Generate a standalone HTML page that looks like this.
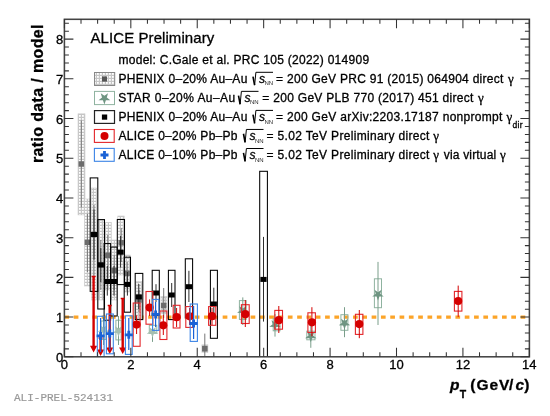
<!DOCTYPE html>
<html><head><meta charset="utf-8"><style>
html,body{margin:0;padding:0;background:#fff;}
svg{display:block;}
text{font-family:"Liberation Sans",sans-serif;fill:#000;stroke:#000;stroke-width:0.3px;}
.lab{font-size:13px;}
.leg{font-size:12px;}
.g{font-family:"Liberation Serif",serif;}
</style></head><body>
<svg width="550" height="416" viewBox="0 0 550 416">
<defs>
<pattern id="hp" patternUnits="userSpaceOnUse" width="3" height="3">
<rect width="3" height="3" fill="#c6c6c6"/><rect x="1" y="1" width="1.8" height="1.8" fill="#fff"/>
</pattern>
<clipPath id="fr"><rect x="64.4" y="19.3" width="465" height="337.5"/></clipPath>
</defs>
<g clip-path="url(#fr)"><line x1="64.4" y1="317.1" x2="526" y2="317.1" stroke="#fca428" stroke-width="3.4" stroke-dasharray="4.7 4.61"/><rect x="78.0" y="113.8" width="7.0" height="101.1" fill="url(#hp)" stroke="#ccc" stroke-width="0.6"/><line x1="81.3" y1="120.4" x2="81.3" y2="207.5" stroke="#777" stroke-width="1"/><rect x="78.55" y="161.25" width="5.5" height="5.5" fill="#6c6c6c"/><rect x="84.5" y="199.0" width="5.8" height="87.0" fill="url(#hp)" stroke="#ccc" stroke-width="0.6"/><line x1="87.4" y1="213.7" x2="87.4" y2="272.0" stroke="#777" stroke-width="1"/><rect x="84.65" y="239.55" width="5.5" height="5.5" fill="#6c6c6c"/><rect x="91.5" y="188.0" width="5.0" height="112.0" fill="url(#hp)" stroke="#ccc" stroke-width="0.6"/><line x1="94.0" y1="205.0" x2="94.0" y2="280.0" stroke="#777" stroke-width="1"/><rect x="91.25" y="231.75" width="5.5" height="5.5" fill="#6c6c6c"/><rect x="98.6" y="220.5" width="5.4" height="79.5" fill="url(#hp)" stroke="#ccc" stroke-width="0.6"/><line x1="100.8" y1="240.0" x2="100.8" y2="290.0" stroke="#777" stroke-width="1"/><rect x="98.05" y="262.15" width="5.5" height="5.5" fill="#6c6c6c"/><rect x="104.7" y="222.3" width="6.6" height="67.7" fill="url(#hp)" stroke="#ccc" stroke-width="0.6"/><line x1="107.8" y1="235.0" x2="107.8" y2="278.0" stroke="#777" stroke-width="1"/><rect x="105.05" y="252.55" width="5.5" height="5.5" fill="#6c6c6c"/><rect x="111.0" y="240.0" width="6.0" height="60.0" fill="url(#hp)" stroke="#ccc" stroke-width="0.6"/><line x1="114.2" y1="255.0" x2="114.2" y2="290.0" stroke="#777" stroke-width="1"/><rect x="111.45" y="267.75" width="5.5" height="5.5" fill="#6c6c6c"/><rect x="117.8" y="216.0" width="6.4" height="59.0" fill="url(#hp)" stroke="#ccc" stroke-width="0.6"/><line x1="121.2" y1="228.0" x2="121.2" y2="262.0" stroke="#777" stroke-width="1"/><rect x="118.45" y="240.05" width="5.5" height="5.5" fill="#6c6c6c"/><rect x="124.5" y="255.0" width="5.7" height="37.0" fill="url(#hp)" stroke="#ccc" stroke-width="0.6"/><line x1="127.2" y1="262.0" x2="127.2" y2="288.0" stroke="#777" stroke-width="1"/><rect x="124.45" y="270.55" width="5.5" height="5.5" fill="#6c6c6c"/><rect x="136.0" y="281.5" width="6.0" height="37.5" fill="url(#hp)" stroke="#ccc" stroke-width="0.6"/><line x1="139.0" y1="290.0" x2="139.0" y2="312.0" stroke="#777" stroke-width="1"/><rect x="136.25" y="297.25" width="5.5" height="5.5" fill="#6c6c6c"/><rect x="160.9" y="296.5" width="6.0" height="17.3" fill="url(#hp)" stroke="#ccc" stroke-width="0.6"/><line x1="163.7" y1="288.0" x2="163.7" y2="318.0" stroke="#777" stroke-width="1"/><rect x="160.95" y="302.75" width="5.5" height="5.5" fill="#6c6c6c"/><rect x="201.9" y="344.8" width="6.0" height="7.8" fill="url(#hp)" stroke="#ccc" stroke-width="0.6"/><line x1="204.8" y1="333.6" x2="204.8" y2="357.0" stroke="#777" stroke-width="1"/><rect x="202.05" y="345.95" width="5.5" height="5.5" fill="#6c6c6c"/><rect x="101.0" y="321.0" width="5.0" height="18.4" fill="none" stroke="#8fb3a0" stroke-width="1"/><line x1="103.5" y1="318.0" x2="103.5" y2="345.0" stroke="#7a9e8a" stroke-width="1"/><path d="M103.50,336.00 L102.09,331.94 L97.79,331.85 L101.22,329.26 L99.97,325.15 L103.50,327.60 L107.03,325.15 L105.78,329.26 L109.21,331.85 L104.91,331.94Z" fill="#a5bfb0"/><rect x="115.9" y="320.2" width="5.3" height="19.7" fill="none" stroke="#8fb3a0" stroke-width="1"/><line x1="118.5" y1="316.0" x2="118.5" y2="345.0" stroke="#7a9e8a" stroke-width="1"/><path d="M118.50,337.00 L117.09,332.94 L112.79,332.85 L116.22,330.26 L114.97,326.15 L118.50,328.60 L122.03,326.15 L120.78,330.26 L124.21,332.85 L119.91,332.94Z" fill="#a5bfb0"/><rect x="149.3" y="325.3" width="7.5" height="8.0" fill="none" stroke="#8fb3a0" stroke-width="1"/><line x1="152.5" y1="323.9" x2="152.5" y2="341.9" stroke="#7a9e8a" stroke-width="1"/><path d="M152.50,337.80 L151.09,333.74 L146.79,333.65 L150.22,331.06 L148.97,326.95 L152.50,329.40 L156.03,326.95 L154.78,331.06 L158.21,333.65 L153.91,333.74Z" fill="#a5bfb0"/><rect x="239.4" y="300.6" width="6.8" height="18.8" fill="none" stroke="#8fb3a0" stroke-width="1"/><line x1="242.8" y1="297.4" x2="242.8" y2="325.0" stroke="#7a9e8a" stroke-width="1"/><path d="M242.80,317.00 L241.39,312.94 L237.09,312.85 L240.52,310.26 L239.27,306.15 L242.80,308.60 L246.33,306.15 L245.08,310.26 L248.51,312.85 L244.21,312.94Z" fill="#6f9582"/><rect x="273.2" y="318.6" width="6.8" height="12.2" fill="none" stroke="#8fb3a0" stroke-width="1"/><line x1="275.0" y1="314.0" x2="275.0" y2="336.6" stroke="#7a9e8a" stroke-width="1"/><path d="M275.00,331.00 L273.59,326.94 L269.29,326.85 L272.72,324.26 L271.47,320.15 L275.00,322.60 L278.53,320.15 L277.28,324.26 L280.71,326.85 L276.41,326.94Z" fill="#6f9582"/><rect x="306.8" y="331.2" width="8.2" height="8.6" fill="none" stroke="#8fb3a0" stroke-width="1"/><line x1="310.8" y1="326.0" x2="310.8" y2="347.8" stroke="#7a9e8a" stroke-width="1"/><path d="M310.80,342.30 L309.39,338.24 L305.09,338.15 L308.52,335.56 L307.27,331.45 L310.80,333.90 L314.33,331.45 L313.08,335.56 L316.51,338.15 L312.21,338.24Z" fill="#6f9582"/><rect x="340.9" y="314.7" width="7.0" height="15.6" fill="none" stroke="#8fb3a0" stroke-width="1"/><line x1="344.5" y1="307.2" x2="344.5" y2="337.2" stroke="#7a9e8a" stroke-width="1"/><path d="M344.50,329.50 L343.09,325.44 L338.79,325.35 L342.22,322.76 L340.97,318.65 L344.50,321.10 L348.03,318.65 L346.78,322.76 L350.21,325.35 L345.91,325.44Z" fill="#6f9582"/><rect x="374.4" y="278.8" width="7.1" height="28.9" fill="none" stroke="#8fb3a0" stroke-width="1"/><line x1="378.0" y1="261.9" x2="378.0" y2="325.0" stroke="#7a9e8a" stroke-width="1"/><path d="M378.00,300.60 L376.59,296.54 L372.29,296.45 L375.72,293.86 L374.47,289.75 L378.00,292.20 L381.53,289.75 L380.28,293.86 L383.71,296.45 L379.41,296.54Z" fill="#6f9582"/><rect x="90.2" y="177.9" width="7.6" height="113.5" fill="none" stroke="#000" stroke-width="1.05"/><line x1="94.0" y1="209.6" x2="94.0" y2="259.6" stroke="#222" stroke-width="0.95"/><rect x="90.9" y="232.0" width="6.2" height="5" fill="#000"/><rect x="97.8" y="219.6" width="6.7" height="89.4" fill="none" stroke="#000" stroke-width="1.05"/><line x1="100.8" y1="248.0" x2="100.8" y2="282.0" stroke="#222" stroke-width="0.95"/><rect x="97.7" y="262.4" width="6.2" height="5" fill="#000"/><rect x="104.1" y="243.6" width="6.5" height="76.6" fill="none" stroke="#000" stroke-width="1.05"/><line x1="107.3" y1="266.0" x2="107.3" y2="295.6" stroke="#222" stroke-width="0.95"/><rect x="104.2" y="279.0" width="6.2" height="5" fill="#000"/><rect x="110.7" y="247.1" width="6.5" height="68.9" fill="none" stroke="#000" stroke-width="1.05"/><line x1="114.0" y1="266.0" x2="114.0" y2="295.6" stroke="#222" stroke-width="0.95"/><rect x="110.9" y="279.0" width="6.2" height="5" fill="#000"/><rect x="117.3" y="219.5" width="7.2" height="65.1" fill="none" stroke="#000" stroke-width="1.05"/><line x1="120.6" y1="236.0" x2="120.6" y2="267.6" stroke="#222" stroke-width="0.95"/><rect x="117.5" y="249.7" width="6.2" height="5" fill="#000"/><rect x="124.2" y="257.2" width="6.3" height="55.0" fill="none" stroke="#000" stroke-width="1.05"/><line x1="127.4" y1="272.0" x2="127.4" y2="295.6" stroke="#222" stroke-width="0.95"/><rect x="124.3" y="281.9" width="6.2" height="5" fill="#000"/><rect x="135.2" y="273.4" width="7.6" height="46.2" fill="none" stroke="#000" stroke-width="1.05"/><line x1="138.8" y1="284.0" x2="138.8" y2="309.0" stroke="#222" stroke-width="0.95"/><rect x="135.7" y="294.4" width="6.2" height="5" fill="#000"/><rect x="152.2" y="270.3" width="7.1" height="45.2" fill="none" stroke="#000" stroke-width="1.05"/><line x1="156.0" y1="284.2" x2="156.0" y2="302.0" stroke="#222" stroke-width="0.95"/><rect x="152.9" y="290.5" width="6.2" height="5" fill="#000"/><rect x="168.4" y="270.3" width="6.6" height="49.3" fill="none" stroke="#000" stroke-width="1.05"/><line x1="171.7" y1="283.0" x2="171.7" y2="307.0" stroke="#222" stroke-width="0.95"/><rect x="168.6" y="292.5" width="6.2" height="5" fill="#000"/><rect x="185.3" y="258.8" width="7.3" height="59.2" fill="none" stroke="#000" stroke-width="1.05"/><line x1="188.9" y1="270.8" x2="188.9" y2="302.0" stroke="#222" stroke-width="0.95"/><rect x="185.8" y="284.2" width="6.2" height="5" fill="#000"/><rect x="210.4" y="270.3" width="7.0" height="68.0" fill="none" stroke="#000" stroke-width="1.05"/><line x1="213.8" y1="287.7" x2="213.8" y2="320.0" stroke="#222" stroke-width="0.95"/><rect x="210.7" y="301.5" width="6.2" height="5" fill="#000"/><rect x="259.7" y="171.3" width="7.7" height="190.7" fill="none" stroke="#000" stroke-width="1.05"/><line x1="263.5" y1="236.9" x2="263.5" y2="321.6" stroke="#222" stroke-width="0.95"/><rect x="260.4" y="276.9" width="6.2" height="5" fill="#000"/><rect x="133.2" y="303.0" width="6.9" height="43.3" fill="none" stroke="#e3262a" stroke-width="1.1"/><line x1="136.6" y1="315.3" x2="136.6" y2="334.0" stroke="#d40000" stroke-width="1"/><circle cx="136.6" cy="324.6" r="4.1" fill="#d40000"/><rect x="146.0" y="291.5" width="6.9" height="32.7" fill="none" stroke="#e3262a" stroke-width="1.1"/><line x1="149.6" y1="299.4" x2="149.6" y2="316.0" stroke="#d40000" stroke-width="1"/><circle cx="149.6" cy="307.6" r="4.1" fill="#d40000"/><rect x="159.9" y="311.0" width="7.0" height="28.5" fill="none" stroke="#e3262a" stroke-width="1.1"/><line x1="163.3" y1="315.0" x2="163.3" y2="335.0" stroke="#d40000" stroke-width="1"/><circle cx="163.3" cy="325.3" r="4.1" fill="#d40000"/><rect x="173.2" y="305.3" width="6.8" height="22.7" fill="none" stroke="#e3262a" stroke-width="1.1"/><line x1="176.6" y1="308.0" x2="176.6" y2="327.0" stroke="#d40000" stroke-width="1"/><circle cx="176.6" cy="317.2" r="4.1" fill="#d40000"/><rect x="185.8" y="306.6" width="7.2" height="20.8" fill="none" stroke="#e3262a" stroke-width="1.1"/><line x1="189.6" y1="308.0" x2="189.6" y2="325.0" stroke="#d40000" stroke-width="1"/><circle cx="189.6" cy="316.3" r="4.1" fill="#d40000"/><rect x="208.6" y="306.6" width="7.2" height="18.7" fill="none" stroke="#e3262a" stroke-width="1.1"/><line x1="212.0" y1="308.0" x2="212.0" y2="325.0" stroke="#d40000" stroke-width="1"/><circle cx="212.0" cy="316.2" r="4.1" fill="#d40000"/><rect x="241.4" y="304.7" width="7.8" height="18.8" fill="none" stroke="#e3262a" stroke-width="1.1"/><line x1="245.3" y1="300.0" x2="245.3" y2="327.0" stroke="#d40000" stroke-width="1"/><circle cx="245.3" cy="314.2" r="4.1" fill="#d40000"/><rect x="274.8" y="310.4" width="7.7" height="18.8" fill="none" stroke="#e3262a" stroke-width="1.1"/><line x1="278.8" y1="306.0" x2="278.8" y2="333.0" stroke="#d40000" stroke-width="1"/><circle cx="278.8" cy="320.2" r="4.1" fill="#d40000"/><rect x="307.9" y="312.8" width="7.5" height="19.7" fill="none" stroke="#e3262a" stroke-width="1.1"/><line x1="311.9" y1="307.2" x2="311.9" y2="336.3" stroke="#d40000" stroke-width="1"/><circle cx="311.9" cy="322.3" r="4.1" fill="#d40000"/><rect x="355.4" y="314.3" width="7.5" height="20.1" fill="none" stroke="#e3262a" stroke-width="1.1"/><line x1="359.3" y1="310.0" x2="359.3" y2="338.2" stroke="#d40000" stroke-width="1"/><circle cx="359.3" cy="324.1" r="4.1" fill="#d40000"/><rect x="454.4" y="291.4" width="7.5" height="19.7" fill="none" stroke="#e3262a" stroke-width="1.1"/><line x1="458.2" y1="285.6" x2="458.2" y2="316.9" stroke="#d40000" stroke-width="1"/><circle cx="458.2" cy="301.0" r="4.1" fill="#d40000"/><line x1="93.6" y1="276.6" x2="93.6" y2="346.4" stroke="#d40000" stroke-width="2.4"/><line x1="91.6" y1="276.6" x2="95.6" y2="276.6" stroke="#d40000" stroke-width="1.5"/><path d="M90.0 345.8L97.2 345.8L93.6 352.4Z" fill="#d40000"/><line x1="100.6" y1="338.0" x2="100.6" y2="350.0" stroke="#d40000" stroke-width="2.4"/><line x1="98.6" y1="338.0" x2="102.6" y2="338.0" stroke="#d40000" stroke-width="1.5"/><path d="M97.0 349.4L104.2 349.4L100.6 356.0Z" fill="#d40000"/><line x1="109.7" y1="305.6" x2="109.7" y2="348.0" stroke="#d40000" stroke-width="2.4"/><line x1="107.7" y1="305.6" x2="111.7" y2="305.6" stroke="#d40000" stroke-width="1.5"/><path d="M106.1 347.4L113.3 347.4L109.7 354.0Z" fill="#d40000"/><line x1="122.7" y1="298.6" x2="122.7" y2="348.0" stroke="#d40000" stroke-width="2.4"/><line x1="120.7" y1="298.6" x2="124.7" y2="298.6" stroke="#d40000" stroke-width="1.5"/><path d="M119.1 347.4L126.3 347.4L122.7 354.0Z" fill="#d40000"/><rect x="97.3" y="316.3" width="6.8" height="40.7" fill="none" stroke="#3b84e6" stroke-width="1.1"/><line x1="100.6" y1="318.0" x2="100.6" y2="352.0" stroke="#1a62d6" stroke-width="1.2"/><path d="M96.6 335.9H104.6M100.6 331.9V339.9" stroke="#1a62d6" stroke-width="2.8"/><rect x="106.4" y="314.0" width="6.9" height="39.8" fill="none" stroke="#3b84e6" stroke-width="1.1"/><line x1="109.8" y1="316.0" x2="109.8" y2="350.0" stroke="#1a62d6" stroke-width="1.2"/><path d="M105.8 333.6H113.8M109.8 329.6V337.6" stroke="#1a62d6" stroke-width="2.8"/><rect x="125.4" y="315.8" width="6.8" height="38.6" fill="none" stroke="#3b84e6" stroke-width="1.1"/><line x1="128.8" y1="318.0" x2="128.8" y2="350.0" stroke="#1a62d6" stroke-width="1.2"/><path d="M124.8 334.8H132.8M128.8 330.8V338.8" stroke="#1a62d6" stroke-width="2.8"/><rect x="152.6" y="299.4" width="6.3" height="31.0" fill="none" stroke="#3b84e6" stroke-width="1.1"/><line x1="155.6" y1="302.0" x2="155.6" y2="327.0" stroke="#1a62d6" stroke-width="1.2"/><path d="M151.6 314.4H159.6M155.6 310.4V318.4" stroke="#1a62d6" stroke-width="2.8"/><rect x="190.2" y="304.0" width="7.2" height="37.4" fill="none" stroke="#3b84e6" stroke-width="1.1"/><line x1="193.6" y1="306.0" x2="193.6" y2="339.0" stroke="#1a62d6" stroke-width="1.2"/><path d="M189.6 323.5H197.6M193.6 319.5V327.5" stroke="#1a62d6" stroke-width="2.8"/></g><rect x="94.5" y="72.5" width="20.2" height="13" fill="url(#hp)" stroke="#888" stroke-width="1"/><rect x="102" y="76.4" width="5" height="5.2" fill="#555"/><rect x="94.5" y="91.4" width="20" height="13.2" fill="none" stroke="#8fb3a0" stroke-width="1"/><path d="M104.40,104.50 L102.93,100.32 L98.50,100.22 L102.02,97.53 L100.76,93.28 L104.40,95.80 L108.04,93.28 L106.78,97.53 L110.30,100.22 L105.87,100.32Z" fill="#6f9582"/><rect x="94.5" y="110.6" width="20" height="12.8" fill="none" stroke="#222" stroke-width="1.2"/><rect x="101.9" y="114.5" width="5.3" height="5.2" fill="#000"/><rect x="94.4" y="129.5" width="19.8" height="12.9" fill="none" stroke="#e3262a" stroke-width="1.1"/><circle cx="104.5" cy="135.9" r="4" fill="#d40000"/><rect x="94.4" y="148.4" width="19.8" height="12.9" fill="none" stroke="#3b84e6" stroke-width="1.1"/><path d="M100.5 155H108.5M104.5 151V159" stroke="#1a62d6" stroke-width="2.8"/>
<rect x="64.4" y="19.3" width="465.0" height="337.5" fill="none" stroke="#444" stroke-width="1.55"/>
<path d="M64.40 356.8v-9M64.40 19.3v9M81.01 356.8v-4.5M81.01 19.3v4.5M97.61 356.8v-4.5M97.61 19.3v4.5M114.22 356.8v-4.5M114.22 19.3v4.5M130.82 356.8v-9M130.82 19.3v9M147.43 356.8v-4.5M147.43 19.3v4.5M164.03 356.8v-4.5M164.03 19.3v4.5M180.63 356.8v-4.5M180.63 19.3v4.5M197.24 356.8v-9M197.24 19.3v9M213.84 356.8v-4.5M213.84 19.3v4.5M230.45 356.8v-4.5M230.45 19.3v4.5M247.06 356.8v-4.5M247.06 19.3v4.5M263.66 356.8v-9M263.66 19.3v9M280.26 356.8v-4.5M280.26 19.3v4.5M296.87 356.8v-4.5M296.87 19.3v4.5M313.48 356.8v-4.5M313.48 19.3v4.5M330.08 356.8v-9M330.08 19.3v9M346.69 356.8v-4.5M346.69 19.3v4.5M363.29 356.8v-4.5M363.29 19.3v4.5M379.89 356.8v-4.5M379.89 19.3v4.5M396.50 356.8v-9M396.50 19.3v9M413.11 356.8v-4.5M413.11 19.3v4.5M429.71 356.8v-4.5M429.71 19.3v4.5M446.32 356.8v-4.5M446.32 19.3v4.5M462.92 356.8v-9M462.92 19.3v9M479.52 356.8v-4.5M479.52 19.3v4.5M496.13 356.8v-4.5M496.13 19.3v4.5M512.74 356.8v-4.5M512.74 19.3v4.5M529.34 356.8v-9M529.34 19.3v9M64.4 356.80h9M529.4 356.80h-9M64.4 348.86h4.5M529.4 348.86h-4.5M64.4 340.92h4.5M529.4 340.92h-4.5M64.4 332.97h4.5M529.4 332.97h-4.5M64.4 325.03h4.5M529.4 325.03h-4.5M64.4 317.09h9M529.4 317.09h-9M64.4 309.15h4.5M529.4 309.15h-4.5M64.4 301.21h4.5M529.4 301.21h-4.5M64.4 293.26h4.5M529.4 293.26h-4.5M64.4 285.32h4.5M529.4 285.32h-4.5M64.4 277.38h9M529.4 277.38h-9M64.4 269.44h4.5M529.4 269.44h-4.5M64.4 261.50h4.5M529.4 261.50h-4.5M64.4 253.55h4.5M529.4 253.55h-4.5M64.4 245.61h4.5M529.4 245.61h-4.5M64.4 237.67h9M529.4 237.67h-9M64.4 229.73h4.5M529.4 229.73h-4.5M64.4 221.79h4.5M529.4 221.79h-4.5M64.4 213.84h4.5M529.4 213.84h-4.5M64.4 205.90h4.5M529.4 205.90h-4.5M64.4 197.96h9M529.4 197.96h-9M64.4 190.02h4.5M529.4 190.02h-4.5M64.4 182.08h4.5M529.4 182.08h-4.5M64.4 174.13h4.5M529.4 174.13h-4.5M64.4 166.19h4.5M529.4 166.19h-4.5M64.4 158.25h9M529.4 158.25h-9M64.4 150.31h4.5M529.4 150.31h-4.5M64.4 142.37h4.5M529.4 142.37h-4.5M64.4 134.42h4.5M529.4 134.42h-4.5M64.4 126.48h4.5M529.4 126.48h-4.5M64.4 118.54h9M529.4 118.54h-9M64.4 110.60h4.5M529.4 110.60h-4.5M64.4 102.66h4.5M529.4 102.66h-4.5M64.4 94.71h4.5M529.4 94.71h-4.5M64.4 86.77h4.5M529.4 86.77h-4.5M64.4 78.83h9M529.4 78.83h-9M64.4 70.89h4.5M529.4 70.89h-4.5M64.4 62.95h4.5M529.4 62.95h-4.5M64.4 55.00h4.5M529.4 55.00h-4.5M64.4 47.06h4.5M529.4 47.06h-4.5M64.4 39.12h9M529.4 39.12h-9M64.4 31.18h4.5M529.4 31.18h-4.5M64.4 23.24h4.5M529.4 23.24h-4.5" stroke="#333" stroke-width="1.05" fill="none"/>
<text x="64.4" y="368.6" class="lab" text-anchor="middle">0</text>
<text x="130.8" y="368.6" class="lab" text-anchor="middle">2</text>
<text x="197.2" y="368.6" class="lab" text-anchor="middle">4</text>
<text x="263.7" y="368.6" class="lab" text-anchor="middle">6</text>
<text x="330.1" y="368.6" class="lab" text-anchor="middle">8</text>
<text x="396.5" y="368.6" class="lab" text-anchor="middle">10</text>
<text x="462.9" y="368.6" class="lab" text-anchor="middle">12</text>
<text x="529.3" y="368.6" class="lab" text-anchor="middle">14</text>
<text x="63.3" y="362.0" class="lab" text-anchor="end">0</text>
<text x="63.3" y="322.3" class="lab" text-anchor="end">1</text>
<text x="63.3" y="282.6" class="lab" text-anchor="end">2</text>
<text x="63.3" y="242.9" class="lab" text-anchor="end">3</text>
<text x="63.3" y="203.2" class="lab" text-anchor="end">4</text>
<text x="63.3" y="163.4" class="lab" text-anchor="end">5</text>
<text x="63.3" y="123.7" class="lab" text-anchor="end">6</text>
<text x="63.3" y="84.0" class="lab" text-anchor="end">7</text>
<text x="63.3" y="44.3" class="lab" text-anchor="end">8</text>
<text x="118.48" y="63.6" style="font-size:12px" textLength="250.62" lengthAdjust="spacing">model: C.Gale et al. PRC 105 (2022) 014909</text><text x="118.53" y="82.6" style="font-size:12px" textLength="128.81" lengthAdjust="spacing">PHENIX 0–20% Au–Au</text><text x="276.11" y="82.6" style="font-size:12px" textLength="227.30" lengthAdjust="spacing">= 200 GeV PRC 91 (2015) 064904 direct</text><text x="118.21" y="101.65" style="font-size:12px" textLength="116.94" lengthAdjust="spacing">STAR 0–20% Au–Au</text><text x="262.32" y="101.65" style="font-size:12px" textLength="211.09" lengthAdjust="spacing">= 200 GeV PLB 770 (2017) 451 direct</text><text x="118.53" y="120.7" style="font-size:12px" textLength="128.81" lengthAdjust="spacing">PHENIX 0–20% Au–Au</text><text x="276.11" y="120.7" style="font-size:12px" textLength="226.32" lengthAdjust="spacing">= 200 GeV arXiv:2203.17187 nonprompt</text><text x="118.59" y="139.75" style="font-size:12px" textLength="118.85" lengthAdjust="spacing">ALICE 0–20% Pb–Pb</text><text x="266.53" y="139.75" style="font-size:12px" textLength="162.88" lengthAdjust="spacing">= 5.02 TeV Preliminary direct</text><text x="118.59" y="158.8" style="font-size:12px" textLength="118.85" lengthAdjust="spacing">ALICE 0–10% Pb–Pb</text><text x="266.53" y="158.8" style="font-size:12px" textLength="162.88" lengthAdjust="spacing">= 5.02 TeV Preliminary direct</text><text x="443.86" y="158.8" style="font-size:12px" textLength="52.35" lengthAdjust="spacing">via virtual</text><text x="512.45" y="128.2" style="font-size:8.5px" textLength="10.20" lengthAdjust="spacing">dir</text><text x="449.98" y="390.2" style="font-size:15.5px;font-weight:bold;font-style:italic" textLength="7.03" lengthAdjust="spacing">p</text><text x="459.86" y="398.4" style="font-size:10.5px;font-weight:bold" textLength="8.65" lengthAdjust="spacing">T</text><text x="470.35" y="390.2" style="font-size:15.5px;font-weight:bold" textLength="39.07" lengthAdjust="spacing">(GeV</text><text x="509.10" y="390.2" style="font-size:15.5px;font-weight:bold" textLength="9.61" lengthAdjust="spacing">/</text><text x="515.45" y="390.2" style="font-size:15.5px;font-weight:bold;font-style:italic" textLength="6.33" lengthAdjust="spacing">c</text><text x="524.13" y="390.2" style="font-size:15.5px;font-weight:bold" textLength="5.12" lengthAdjust="spacing">)</text><text x="90.51" y="42.7" style="font-size:15px" textLength="123.72" lengthAdjust="spacing">ALICE Preliminary</text><text x="508.10" y="82.6" class="g" style="font-size:13px">γ</text><text x="478.10" y="101.65" class="g" style="font-size:13px">γ</text><text x="506.50" y="120.7" class="g" style="font-size:13px">γ</text><text x="433.20" y="139.75" class="g" style="font-size:13px">γ</text><text x="433.20" y="158.8" class="g" style="font-size:13px">γ</text><text x="500.00" y="158.8" class="g" style="font-size:13px">γ</text><path d="M253.00 76.60L254.60 85.20" stroke="#000" stroke-width="1.6" fill="none"/><path d="M254.60 85.20L255.90 72.30H273.00" stroke="#000" stroke-width="1" fill="none"/><text x="259.00" y="82.6" style="font-size:12px;font-style:italic">s</text><text x="264.50" y="85.40" style="font-size:6px;stroke:none;fill:#222">NN</text><path d="M238.50 95.65L240.10 104.25" stroke="#000" stroke-width="1.6" fill="none"/><path d="M240.10 104.25L241.40 91.35H258.50" stroke="#000" stroke-width="1" fill="none"/><text x="244.50" y="101.65" style="font-size:12px;font-style:italic">s</text><text x="250.00" y="104.45" style="font-size:6px;stroke:none;fill:#222">NN</text><path d="M253.00 114.70L254.60 123.30" stroke="#000" stroke-width="1.6" fill="none"/><path d="M254.60 123.30L255.90 110.40H273.00" stroke="#000" stroke-width="1" fill="none"/><text x="259.00" y="120.7" style="font-size:12px;font-style:italic">s</text><text x="264.50" y="123.50" style="font-size:6px;stroke:none;fill:#222">NN</text><path d="M243.50 133.75L245.10 142.35" stroke="#000" stroke-width="1.6" fill="none"/><path d="M245.10 142.35L246.40 129.45H263.50" stroke="#000" stroke-width="1" fill="none"/><text x="249.50" y="139.75" style="font-size:12px;font-style:italic">s</text><text x="255.00" y="142.55" style="font-size:6px;stroke:none;fill:#222">NN</text><path d="M243.50 152.80L245.10 161.40" stroke="#000" stroke-width="1.6" fill="none"/><path d="M245.10 161.40L246.40 148.50H263.50" stroke="#000" stroke-width="1" fill="none"/><text x="249.50" y="158.8" style="font-size:12px;font-style:italic">s</text><text x="255.00" y="161.60" style="font-size:6px;stroke:none;fill:#222">NN</text>
<text transform="translate(42.7,163) rotate(-90)" style="font-size:16px;font-weight:bold" textLength="138.5" lengthAdjust="spacing">ratio data / model</text>
<text x="14" y="401.4" style="font-family:'Liberation Mono',monospace;font-size:11px;fill:#999;stroke:#999;stroke-width:0.2px">ALI-PREL-524131</text>
</svg>
</body></html>
